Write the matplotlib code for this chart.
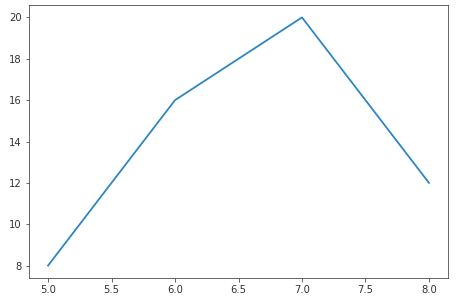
import matplotlib
matplotlib.use("Agg")
import matplotlib.pyplot as plt

x_values = [5, 6, 7, 8]
y_values = [8, 16, 20, 12]

fig = plt.figure(figsize=(462 / 72, 307 / 72), dpi=72)
ax = fig.add_axes([29 / 462, 29 / 307, 419 / 462, 273 / 307])
ax.plot(x_values, y_values, color="#2e86c1", linewidth=1.8)
for side in ax.spines.values():
    side.set_color("#444444")
ax.tick_params(labelsize=10, labelcolor="#333333", color="#444444")

fig.savefig("out.png", dpi=72)
